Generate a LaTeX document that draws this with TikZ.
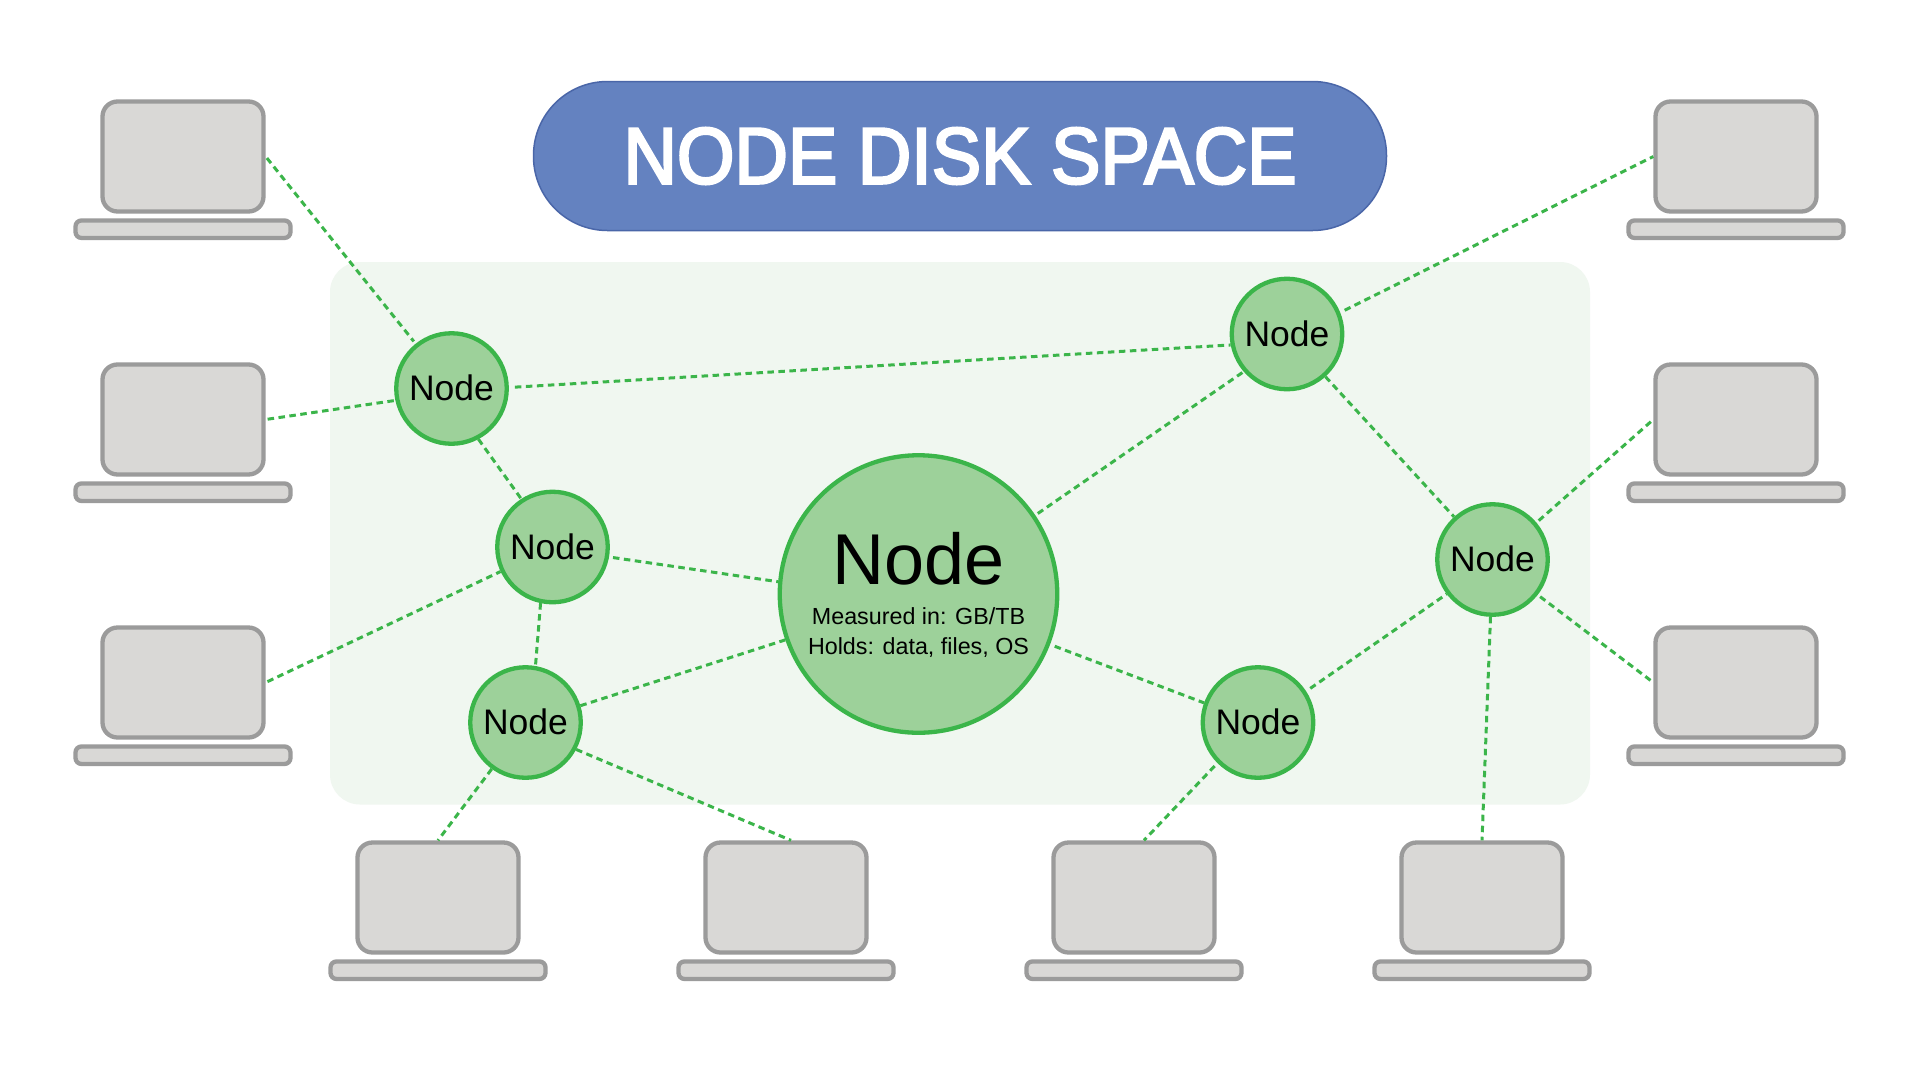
\documentclass[tikz,border=0pt]{standalone}
\usepackage{fontspec}
\setmainfont{Liberation Sans}
\newfontfamily\titlefont[FakeStretch=0.925,FakeBold=3]{Liberation Sans}
\definecolor{panelc}{HTML}{F0F7F0}
\definecolor{titlec}{HTML}{6482C0}
\definecolor{titleb}{HTML}{4A66A8}
\definecolor{nodef}{HTML}{9DD19A}
\definecolor{nodeb}{HTML}{3BB54A}
\definecolor{lapf}{HTML}{D9D8D6}
\definecolor{lapb}{HTML}{9B9B9B}
\tikzset{
  x=1pt,y=-1pt,
  screen/.style={draw=lapb,fill=lapf,line width=4.3pt,rounded corners=15pt,minimum width=161pt,minimum height=110pt,inner sep=0pt},
  lapbase/.style={draw=lapb,fill=lapf,line width=4.3pt,rounded corners=6pt,minimum width=215pt,minimum height=17.5pt,inner sep=0pt},
  smallnode/.style={circle,draw=nodeb,fill=nodef,line width=4.3pt,minimum size=110.5pt,inner sep=0pt,font=\fontsize{35.5}{40}\selectfont},
  bignode/.style={circle,draw=nodeb,fill=nodef,line width=4.3pt,minimum size=277.5pt,inner sep=0pt},
  link/.style={draw=nodeb,line width=3pt,dash pattern=on 6.5pt off 4.5pt},
  biglabel/.style={anchor=base,inner sep=0pt,font=\fontsize{72}{80}\selectfont},
  sublabel/.style={anchor=base,inner sep=0pt,font=\fontsize{23.3}{30}\selectfont}
}
\newcommand{\laptop}[3]{%
  \node[screen] (#1) at (#2,#3) {};
  \node[lapbase] (#1b) at (#2,#3+72.7) {};
}
\begin{document}
\begin{tikzpicture}
\useasboundingbox (0,0) rectangle (1920,1080);
\fill[white] (0,0) rectangle (1920,1080);
\fill[panelc,rounded corners=30pt] (330,262) rectangle (1590,804.5);
\node[draw=titleb,fill=titlec,line width=1.5pt,rounded corners=74pt,minimum width=853pt,minimum height=149pt,inner sep=0pt,text=white,font=\titlefont\fontsize{80}{90}\selectfont] (title) at (960,156) {\raisebox{-3.5pt}{NODE DISK SPACE}};
\laptop{la}{183}{156.5}
\laptop{lb}{183}{419.5}
\laptop{lc}{183}{682.5}
\laptop{ra}{1736}{156.5}
\laptop{rb}{1736}{419.5}
\laptop{rc}{1736}{682.5}
\laptop{ba}{438}{897.5}
\laptop{bb}{786}{897.5}
\laptop{bc}{1134}{897.5}
\laptop{bd}{1482}{897.5}
\node[smallnode] (n1) at (451.5,388.5) {\raisebox{1pt}{Node}};
\node[smallnode] (n2) at (552.5,547) {\raisebox{1pt}{Node}};
\node[smallnode] (n3) at (525.5,722.5) {\raisebox{1pt}{Node}};
\node[smallnode] (n4) at (1287,334) {\raisebox{1pt}{Node}};
\node[smallnode] (n5) at (1492.5,559.5) {\raisebox{1pt}{Node}};
\node[smallnode] (n6) at (1258,722.5) {\raisebox{1pt}{Node}};
\node[bignode] (big) at (918.5,594) {};
\node[biglabel] (bigt) at (918.5,584) {Node};
\node[sublabel] (subone) at (918.5,624) {Measured in: GB/TB};
\node[sublabel] (subtwo) at (918.5,654) {Holds: data, files, OS};
\path[link,shorten <=2pt,shorten >=3pt] (la.east) -- (n1);
\path[link,shorten <=2pt] (lb.east) -- (n1.192);
\path[link,shorten <=2pt] (lc.east) -- (n2);
\path[link] (n1.-62) -- (n2.123);
\path[link,shorten <=6pt] (n1.1) -- (n4.191);
\path[link,shorten <=4pt] (n2.-10) -- (big.175);
\path[link] (n2.-102) -- (n3.80);
\path[link] (n3.17) -- (big.199);
\path[link] (n3.234) -- (ba.north);
\path[link] (n3.-28) -- ([xshift=5pt]bb.north);
\path[link,shorten <=3pt] (big.34.6) -- (n4.221.5);
\path[link,shorten <=5pt] (big.-21.4) -- (n6.160.4);
\path[link,shorten <=4pt] (n6.225) -- ([xshift=10pt]bc.north);
\path[link,shorten <=5pt] (n6.33) -- (n5.217);
\path[link] (n5.-92.5) -- (bd.north);
\path[link] (n4.-48) -- (n5.132.5);
\path[link,shorten <=5pt] (n4.22.6) -- (ra.west);
\path[link,shorten <=3pt] (n5.40.9) -- (rb.west);
\path[link,shorten <=3pt] (n5.-38.5) -- (rc.west);
\end{tikzpicture}
\end{document}
